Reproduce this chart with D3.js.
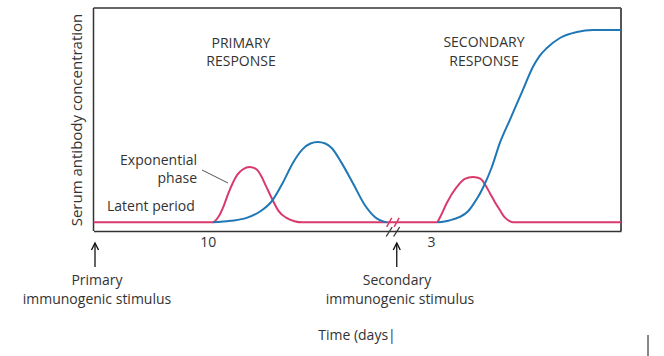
<!DOCTYPE html>
<html>
<head>
<meta charset="utf-8">
<script src="https://cdn.jsdelivr.net/npm/d3@7"></script>
<style>
  html, body { margin: 0; padding: 0; background: #fff; }
  svg { display: block; }
  text { font-family: "Open Sans", "DejaVu Sans", sans-serif; fill: #333; }
</style>
</head>
<body>
<svg id="chart" width="664" height="356"></svg>
<script>
// ---- Data ----
// Primary response, time in days after primary stimulus
const primaryIgMDays   = [0, 10.45, 10.9, 11.4, 11.8, 12.2, 12.6, 13.1, 13.68, 14.29, 14.7, 15.1, 15.69, 16.2, 16.9, 17.6, 18.3];
const primaryIgMValues = [0, 0, 2.5, 8.5, 15, 20.5, 24.8, 27.6, 28.8, 27.5, 24, 19, 11.6, 6, 2.3, 0.6, 0];
const primaryIgGDays   = [10.45, 12.0, 13.41, 14.55, 15.69, 16.57, 17.45, 18.32, 19.0, 19.64, 20.3, 20.86, 21.74, 22.71, 23.76, 24.64, 25.69];
const primaryIgGValues = [0, 0.8, 2.3, 5.5, 11.6, 20.5, 30.8, 38.1, 41, 41.8, 41, 38.7, 30.8, 20.5, 9.0, 2.8, 0];
// Secondary response, time in days after secondary stimulus
const secondaryIgMDays   = [3.51, 3.75, 4.38, 5.26, 5.96, 6.66, 7.1, 7.45, 7.8, 8.15, 8.6, 9.03, 9.4, 9.73, 10.17, 19.64];
const secondaryIgMValues = [0, 2.2, 10.1, 18.4, 22.6, 23.6, 23.2, 22.1, 19, 15.3, 10.5, 6.4, 3, 1.2, 0, 0];
const secondaryIgGDays   = [3.59, 4.6, 5.52, 6.2, 6.66, 7.1, 7.54, 8.33, 9.03, 9.90, 11.04, 11.92, 12.5, 13.15, 14.29, 15.78, 17.18, 19.64];
const secondaryIgGValues = [0, 1, 2.8, 5.5, 9.0, 13, 17.9, 28.8, 41.3, 53.2, 68.8, 80.8, 86.5, 90.7, 95.9, 99.0, 100, 100];
// Axis break: secondary stimulus sits at this many primary-scale days
const secondaryOffset = 26.56;
const breakDay = 26.2;
const primaryTicks = [10];
const secondaryTicks = [3];
const yLabel = "Serum antibody concentration";
const xLabel = "Time (days|";

(function () {
// ---- Scales ----
const svg = d3.select("#chart");
const x = d3.scaleLinear().domain([0, 46.2]).range([93.5, 621]);
const y = d3.scaleLinear().domain([-4.5, 111.5]).range([231, 8]);
const yTop = y(111.5), yBot = y(-4.5), xL = x(0), xR = x(46.2);

const red = "#d93a6c", blue = "#1f77b6", ink = "#333";

// frame
svg.append("line").attr("x1", xL).attr("x2", xR).attr("y1", yTop).attr("y2", yTop)
  .attr("stroke", ink).attr("stroke-width", 1.5);
svg.append("line").attr("x1", xR).attr("x2", xR).attr("y1", yTop).attr("y2", yBot)
  .attr("stroke", "#555").attr("stroke-width", 2);
svg.append("line").attr("x1", xL).attr("x2", xL).attr("y1", yTop).attr("y2", yBot)
  .attr("stroke", ink).attr("stroke-width", 1.5);

// bottom axis (ticks shown as labels only)
const ticks = primaryTicks.map(d => ({v: d, t: String(d)}))
  .concat(secondaryTicks.map(d => ({v: d + secondaryOffset, t: String(d)})));
const axis = d3.axisBottom(x).tickValues(ticks.map(d => d.v))
  .tickFormat((d, i) => ticks[i].t).tickSize(0).tickPadding(6);
const ax = svg.append("g").attr("transform", `translate(0,${yBot})`).call(axis);
ax.select(".domain").attr("stroke", ink).attr("stroke-width", 1.5);
ax.selectAll(".tick text").attr("font-size", 14).attr("fill", ink)
  .style("font-family", '"Open Sans", sans-serif');

// curves
const line = d3.line().x(d => x(d[0])).y(d => y(d[1])).curve(d3.curveMonotoneX);
const redPts = primaryIgMDays.map((d, i) => [d, primaryIgMValues[i]])
  .concat(secondaryIgMDays.map((d, i) => [d + secondaryOffset, secondaryIgMValues[i]]));
const bluePrim = primaryIgGDays.map((d, i) => [d, primaryIgGValues[i]]);
const blueSec = secondaryIgGDays.map((d, i) => [d + secondaryOffset, secondaryIgGValues[i]]);

svg.append("path").datum(redPts).attr("d", line).attr("fill", "none")
  .attr("stroke", red).attr("stroke-width", 2);
[bluePrim, blueSec].forEach(p => svg.append("path").datum(p).attr("d", line)
  .attr("fill", "none").attr("stroke", blue).attr("stroke-width", 2));

// break marks
[-0.3, 0.35].forEach(o => {
  const bx = x(breakDay + o);
  svg.append("line").attr("x1", bx - 2.5).attr("x2", bx + 2.5)
    .attr("y1", y(0) + 4.5).attr("y2", y(0) - 4.5)
    .attr("stroke", red).attr("stroke-width", 1.5);
  svg.append("line").attr("x1", bx - 3).attr("x2", bx + 3)
    .attr("y1", yBot + 5.5).attr("y2", yBot - 4)
    .attr("stroke", ink).attr("stroke-width", 1.3);
});

// text annotations
const T = (tx, ty, s, anchor, size) => svg.append("text").attr("x", tx).attr("y", ty)
  .attr("text-anchor", anchor || "middle").attr("font-size", size || 14).text(s);

T(241, 48, "PRIMARY"); T(241, 66, "RESPONSE");
T(484, 47, "SECONDARY"); T(484, 66, "RESPONSE");
T(197, 165, "Exponential", "end"); T(197, 183, "phase", "end");
T(107, 211, "Latent period", "start");
svg.append("line").attr("x1", 202).attr("y1", 170).attr("x2", 228).attr("y2", 183)
  .attr("stroke", "#555").attr("stroke-width", 1);

// y label
svg.append("text").attr("transform", "translate(82,120) rotate(-90)")
  .attr("text-anchor", "middle").attr("font-size", 15).text(yLabel);

// stimulus arrows
[[x(0) + 1.5, 97, "Primary", 97], [x(secondaryOffset), 397, "Secondary", 400]].forEach(a => {
  svg.append("line").attr("x1", a[0]).attr("x2", a[0]).attr("y1", 267).attr("y2", 243.5)
    .attr("stroke", "#111").attr("stroke-width", 1.3);
  svg.append("path").attr("d", `M${a[0] - 3.5},${250} L${a[0]},${243} L${a[0] + 3.5},${250}`)
    .attr("fill", "none").attr("stroke", "#111").attr("stroke-width", 1.4);
  T(a[1], 285, a[2]); T(a[3], 304, "immunogenic stimulus");
});

// x label
T(357, 340, xLabel);
// stray vertical rule at right of the original
svg.append("line").attr("x1", 648).attr("x2", 648).attr("y1", 335).attr("y2", 356)
  .attr("stroke", "#111").attr("stroke-width", 1);
})();
</script>
</body>
</html>
